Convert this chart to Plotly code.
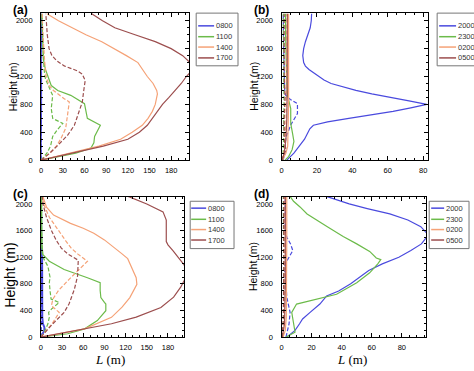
import plotly.graph_objects as go

W, H = 474, 371

# ---------------- data ----------------
HEIGHT_TICKS = [0, 400, 800, 1200, 1600, 2000]
L_TICKS_AC = [0, 30, 60, 90, 120, 150, 180]
L_TICKS_BD = [0, 20, 40, 60, 80]
NAMES_AC = ["0800", "1100", "1400", "1700"]
NAMES_BD = ["2000", "2300", "0200", "0500"]
PANEL_LABELS = ["(a)", "(b)", "(c)", "(d)"]

# panel (a): solid (s) and dashed (d) profiles, height (m) and L (m)
a_0800_s_h = [0, 300, 800, 1300, 1800, 2100]
a_0800_s_L = [0, 0.4, 0.5, 0.5, 0.4, 0.3]
a_0800_d_h = [0, 400, 1000, 1600, 2100]
a_0800_d_L = [0, 0.3, 0.4, 0.3, 0.3]
a_1100_s_h = [0, 50, 100, 174, 250, 340, 500, 600, 700, 810, 930, 1000, 1070, 1200, 1300, 1450, 1700, 2100]
a_1100_s_L = [0, 25, 48, 69, 73, 74, 82, 64, 62, 60, 41, 23, 14, 9, 6, 3, 2, 1]
a_1100_d_h = [0, 100, 200, 340, 430, 527, 598, 740, 928, 1000, 1100, 1164, 1300, 1500, 1800, 2100]
a_1100_d_L = [0, 8, 13, 16, 22, 30, 16, 14, 16, 13, 9, 6, 4, 3, 2, 1]
a_1400_s_h = [0, 100, 200, 300, 400, 500, 600, 700, 800, 900, 950, 1000, 1100, 1200, 1300, 1400, 1500, 1600, 1700, 1800, 1900, 2000, 2100]
a_1400_s_L = [0, 40, 80, 110, 126, 140, 148, 154, 158, 160, 161, 160, 155, 147, 140, 134, 118, 100, 84, 62, 42, 24, 8]
a_1400_d_h = [0, 100, 200, 300, 457, 600, 700, 834, 881, 952, 1000, 1070, 1200, 1400, 1600, 1800, 2100]
a_1400_d_L = [0, 12, 21, 27, 34, 36, 37, 39, 32, 23, 17, 11, 7, 5, 3.5, 2.5, 1.5]
a_1700_s_h = [0, 100, 200, 300, 400, 500, 600, 700, 800, 900, 1000, 1100, 1200, 1300, 1400, 1500, 1600, 1700, 1800, 1850, 1900, 2000, 2100]
a_1700_s_L = [0, 42, 86, 120, 136, 147, 154, 160, 168, 177, 186, 194, 201, 210, 206, 196, 180, 158, 130, 115, 102, 85, 70]
a_1700_d_h = [0, 100, 200, 362, 500, 700, 834, 1000, 1141, 1235, 1282, 1352, 1423, 1500, 1600, 1800, 2000, 2100]
a_1700_d_L = [0, 12, 22, 37, 46, 53, 57, 59, 61, 57, 50, 32, 22, 15, 11, 8.5, 7, 6.5]

# panel (b)
b_2000_s_h = [0, 100, 200, 300, 400, 450, 500, 550, 600, 650, 700, 750, 800, 850, 900, 950, 1000, 1050, 1100, 1150, 1200, 1250, 1300, 1350, 1400, 1500, 1600, 1700, 1800, 1900, 2000, 2100]
b_2000_s_L = [3, 7, 10, 13, 15, 16, 18, 26, 38, 52, 63, 73, 82, 72, 61, 51, 42, 35, 28, 24, 21, 18, 15.5, 13.5, 12.5, 12, 12.5, 13.5, 15, 16.2, 16.8, 17]
b_2000_d_h = [0, 80, 315, 504, 669, 810, 870, 928, 1000, 1200, 1600, 2100]
b_2000_d_L = [1, 1.5, 2.4, 5.2, 9, 9, 5, 2.4, 1.8, 1.5, 1.2, 1]
b_2300_s_h = [0, 50, 150, 269, 386, 528, 740, 928, 1100, 1400, 1800, 2100]
b_2300_s_L = [2, 4, 6, 7, 6.2, 5.2, 5.2, 3.4, 3, 2.6, 2.3, 2.2]
b_2300_d_h = [0, 300, 800, 1500, 2100]
b_2300_d_L = [0.8, 1.2, 1.4, 1.2, 1]
b_0200_s_h = [0, 100, 200, 400, 800, 1200, 1600, 2100]
b_0200_s_L = [0.5, 2.5, 3.5, 3.8, 4, 4, 4, 4]
b_0200_d_h = [0, 200, 600, 1000, 1600, 2100]
b_0200_d_L = [0.5, 2, 2.6, 2.8, 3, 3]
b_0500_s_h = [0, 100, 300, 600, 1000, 1500, 2100]
b_0500_s_L = [0.3, 1.5, 2.5, 3, 3.2, 3.3, 3.3]
b_0500_d_h = [0, 150, 300, 600, 900, 1200, 2100]
b_0500_d_L = [0.3, 2.5, 1.5, 1.5, 2, 1.5, 1.5]

# panel (c)
c_0800_s_h = [0, 50, 100, 150, 200, 300, 600, 900, 1200, 1260, 1400, 2100]
c_0800_s_L = [0, 3, 5, 5, 3, 2, 1.8, 1.8, 1.8, 0.5, 0.3, 0.3]
c_0800_d_h = [0, 200, 600, 1000, 1250, 1400, 2100]
c_0800_d_L = [0, 1, 1.2, 1.2, 1, 0.3, 0.3]
c_1100_s_h = [0, 50, 124, 248, 396, 496, 520, 594, 700, 817, 891, 1015, 1139, 1238, 1400, 1700, 2100]
c_1100_s_L = [0, 38, 62, 80, 92, 92, 90, 85, 84, 84, 66, 33, 12, 3, 1.5, 1, 1]
c_1100_d_h = [0, 100, 200, 297, 371, 430, 520, 570, 700, 817, 900, 1064, 1200, 1300, 1600, 2100]
c_1100_d_L = [0, 6, 10, 12, 11, 16, 26, 14.5, 13, 12, 13, 10, 3, 1.5, 1, 1]
c_1400_s_h = [0, 124, 297, 450, 594, 700, 792, 891, 1000, 1100, 1178, 1250, 1312, 1400, 1460, 1559, 1634, 1708, 1832, 1950, 2110]
c_1400_s_L = [0, 62, 100, 115, 126, 132, 136, 135, 130, 126, 123, 115, 108, 98, 90, 75, 60, 42, 18, 8, 3]
c_1400_d_h = [0, 100, 200, 371, 470, 570, 700, 867, 1000, 1139, 1250, 1336, 1450, 1600, 1800, 2000, 2110]
c_1400_d_L = [0, 8, 16, 26, 15, 17, 25, 40, 52, 66, 52, 43, 35, 25, 12, 4, 2]
c_1700_s_h = [0, 100, 200, 300, 445, 600, 750, 842, 960, 1089, 1200, 1300, 1386, 1436, 1600, 1757, 1881, 2000, 2114]
c_1700_s_L = [0, 52, 100, 135, 170, 188, 198, 202.6, 208, 202.6, 195, 187, 180, 177.6, 177.6, 177.6, 173, 150, 123.6]
c_1700_d_h = [0, 100, 200, 371, 500, 718, 916, 1154, 1250, 1336, 1450, 1600, 1800, 2000, 2110]
c_1700_d_L = [0, 8, 17, 33, 40, 47.5, 52, 53, 38, 29, 22, 15, 8, 3, 2]

# panel (d)
d_2000_s_h = [0, 100, 200, 272, 371, 496, 619, 693, 800, 900, 1000, 1100, 1200, 1300, 1400, 1500, 1550, 1600, 1659, 1758, 1850, 1930, 2000, 2114]
d_2000_s_L = [3.5, 9, 12, 14, 19, 25.5, 30, 38, 46, 52, 58, 67, 78, 86, 93, 96.5, 97, 95, 92.6, 84, 72, 57, 45, 29.8]
d_2000_d_h = [0, 100, 200, 371, 500, 600, 800, 1000, 1100, 1200, 1300, 1400, 1500, 1600, 1800, 2000, 2110]
d_2000_d_L = [3, 4, 5, 5.7, 4.5, 3.5, 3, 2, 2.5, 5, 7.5, 6, 3.5, 2.5, 2.5, 2.5, 2.5]
d_2300_s_h = [0, 74, 223, 371, 496, 545, 644, 817, 965, 1100, 1163, 1188, 1287, 1400, 1510, 1650, 1758, 1850, 1955, 2040, 2114]
d_2300_s_L = [3, 9, 7.9, 6.8, 10, 19, 36.6, 50, 58.6, 64, 66, 63, 58.6, 50, 41, 31, 23.3, 17, 12.3, 8, 5.7]
d_2300_d_h = [0, 300, 800, 1500, 2110]
d_2300_d_L = [1, 1.5, 1.5, 1.3, 1.2]
d_0200_s_h = [0, 100, 300, 800, 1500, 2110]
d_0200_s_L = [1, 2.5, 3.2, 3.5, 3.5, 3.5]
d_0200_d_h = [0, 300, 1000, 2110]
d_0200_d_L = [0.8, 2.0, 2.2, 2.2]
d_0500_s_h = [0, 200, 800, 1500, 2110]
d_0500_s_L = [0.5, 2, 2.5, 2.5, 2.5]
d_0500_d_h = [0, 300, 1000, 2110]
d_0500_d_L = [0.5, 1.2, 1.5, 1.5]

# ---------------- styling / layout ----------------
COLORS = ["#4a4ade", "#6cbb4a", "#f5a277", "#9c4e4e"]
FONT = "Liberation Sans, Arial, sans-serif"


def px_x(x):
    return x / W


def px_y(y):
    return 1 - y / H


# panel geometry in pixels: left, right, top, bottom
GEOM = {
    "a": (39.3, 188.0, 13.3, 162.3),
    "b": (280.7, 428.3, 13.3, 162.3),
    "c": (39.0, 182.7, 199.3, 341.7),
    "d": (280.7, 425.7, 199.3, 341.7),
}
XMAX = {"a": 205, "b": 83, "c": 202.6, "d": 96}
YMAX = 2110

series = {
    "a": [(a_0800_s_h, a_0800_s_L, a_0800_d_h, a_0800_d_L),
          (a_1100_s_h, a_1100_s_L, a_1100_d_h, a_1100_d_L),
          (a_1400_s_h, a_1400_s_L, a_1400_d_h, a_1400_d_L),
          (a_1700_s_h, a_1700_s_L, a_1700_d_h, a_1700_d_L)],
    "b": [(b_2000_s_h, b_2000_s_L, b_2000_d_h, b_2000_d_L),
          (b_2300_s_h, b_2300_s_L, b_2300_d_h, b_2300_d_L),
          (b_0200_s_h, b_0200_s_L, b_0200_d_h, b_0200_d_L),
          (b_0500_s_h, b_0500_s_L, b_0500_d_h, b_0500_d_L)],
    "c": [(c_0800_s_h, c_0800_s_L, c_0800_d_h, c_0800_d_L),
          (c_1100_s_h, c_1100_s_L, c_1100_d_h, c_1100_d_L),
          (c_1400_s_h, c_1400_s_L, c_1400_d_h, c_1400_d_L),
          (c_1700_s_h, c_1700_s_L, c_1700_d_h, c_1700_d_L)],
    "d": [(d_2000_s_h, d_2000_s_L, d_2000_d_h, d_2000_d_L),
          (d_2300_s_h, d_2300_s_L, d_2300_d_h, d_2300_d_L),
          (d_0200_s_h, d_0200_s_L, d_0200_d_h, d_0200_d_L),
          (d_0500_s_h, d_0500_s_L, d_0500_d_h, d_0500_d_L)],
}
names = {"a": NAMES_AC, "b": NAMES_BD, "c": NAMES_AC, "d": NAMES_BD}

fig = go.Figure()
layout = dict(
    width=W, height=H, margin=dict(l=0, r=0, t=0, b=0),
    paper_bgcolor="white", plot_bgcolor="white", showlegend=False,
    font=dict(family=FONT, color="black"),
)
shapes, annotations = [], []

for i, p in enumerate(["a", "b", "c", "d"]):
    n = i + 1
    xa = "x" if n == 1 else f"x{n}"
    ya = "y" if n == 1 else f"y{n}"
    l, r, t, b = GEOM[p]
    for k, (hs, Ls, hd, Ld) in enumerate(series[p]):
        col = COLORS[k]
        w_s = 2.0 if (p == "c" and k == 0) else 1.2
        fig.add_trace(go.Scatter(x=Ls, y=hs, mode="lines", name=names[p][k],
                                 line=dict(color=col, width=w_s),
                                 xaxis=xa, yaxis=ya, hoverinfo="skip"))
        fig.add_trace(go.Scatter(x=Ld, y=hd, mode="lines", name=names[p][k] + " (dashed)",
                                 line=dict(color=col, width=1.2, dash="4px,2px"),
                                 xaxis=xa, yaxis=ya, hoverinfo="skip"))
    xt = L_TICKS_AC if p in ("a", "c") else L_TICKS_BD
    minor_dx = 10 if p in ("a", "c") else 5
    axcommon = dict(showline=True, linecolor="black", linewidth=1, mirror="allticks",
                    ticks="inside", ticklen=4, tickwidth=1, tickcolor="black",
                    showgrid=False, zeroline=False, fixedrange=True,
                    tickfont=dict(size=7.5, family=FONT, color="black"))
    layout["xaxis" if n == 1 else f"xaxis{n}"] = dict(
        axcommon, domain=[px_x(l), px_x(r)], range=[0, XMAX[p]],
        tickmode="array", tickvals=xt, ticktext=[str(v) for v in xt],
        minor=dict(ticks="inside", ticklen=2, dtick=minor_dx, tick0=0, tickcolor="black"),
        anchor=ya, ticklabelstandoff=3)
    layout["yaxis" if n == 1 else f"yaxis{n}"] = dict(
        axcommon, domain=[px_y(b), px_y(t)], range=[0, YMAX],
        tickmode="array", tickvals=HEIGHT_TICKS, ticktext=[str(v) for v in HEIGHT_TICKS],
        minor=dict(ticks="inside", ticklen=2, dtick=100, tick0=0, tickcolor="black"),
        anchor=xa, ticklabelstandoff=6)

    # panel label
    annotations.append(dict(text="<b>" + PANEL_LABELS[i] + "</b>", xref="paper", yref="paper",
                            x=px_x(l - 30), y=px_y(t - 3), xanchor="left", yanchor="middle",
                            showarrow=False, font=dict(size=12, family=FONT)))
    # y-axis title
    big = (p == "c")
    annotations.append(dict(text="Height (m)", xref="paper", yref="paper",
                            x=px_x(l - (31 if big else 28.5)), y=px_y((t + b) / 2 + (8 if big else 0)),
                            xanchor="center", yanchor="middle", textangle=-90,
                            showarrow=False, font=dict(size=14 if big else 10.5, family=FONT)))
    if p in ("c", "d"):
        annotations.append(dict(text="<i>L</i> (m)", xref="paper", yref="paper",
                                x=px_x((l + r) / 2 - 2), y=px_y(364), xanchor="center",
                                yanchor="middle", showarrow=False,
                                font=dict(size=13, family="Liberation Serif, Times New Roman, serif")))

# legends (NCL-style boxes to the right of each panel)
LEG = {  # box left, right, top, bottom, line start, line end, entry y centres
    "a": (195, 237, 13.3, 66.7, 197, 213, [26.2, 37.2, 47.7, 58.7]),
    "b": (437, 480, 13.3, 66.7, 439, 456, [26.2, 37.2, 47.7, 58.7]),
    "c": (189, 233, 204, 252, 190, 205, [211, 222.3, 232.7, 243.3]),
    "d": (429, 469, 204, 252, 431, 444, [211, 222.3, 232.7, 243.3]),
}
for p in ["a", "b", "c", "d"]:
    bl, br, bt, bb, ls, le, ys = LEG[p]
    shapes.append(dict(type="rect", xref="paper", yref="paper", x0=px_x(bl), x1=px_x(br),
                       y0=px_y(bb), y1=px_y(bt), line=dict(color="#777777", width=1),
                       fillcolor="white", layer="above"))
    for k, nm in enumerate(names[p]):
        shapes.append(dict(type="line", xref="paper", yref="paper", x0=px_x(ls), x1=px_x(le),
                           y0=px_y(ys[k]), y1=px_y(ys[k]),
                           line=dict(color=COLORS[k], width=1.5), layer="above"))
        annotations.append(dict(text=nm, xref="paper", yref="paper", x=px_x(le), y=px_y(ys[k]),
                                xanchor="left", yanchor="middle", showarrow=False,
                                font=dict(size=7.5, family=FONT, color="#333333")))

layout["shapes"] = shapes
layout["annotations"] = annotations
fig.update_layout(**layout)
fig.write_html("out.html", config={"displayModeBar": False},
               post_script="document.body.style.margin='0';document.body.style.overflow='hidden';")
